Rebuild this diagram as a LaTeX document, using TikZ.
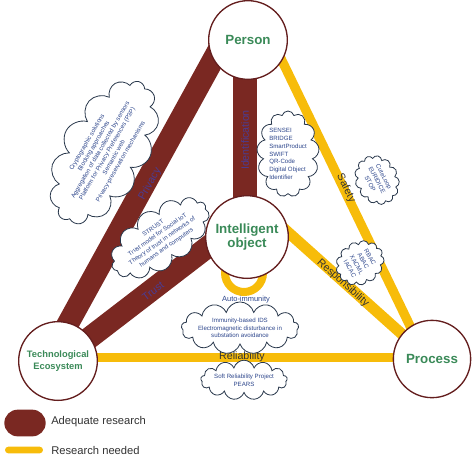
\documentclass[tikz,border=0pt]{standalone}
\usepackage{fontspec}
\setmainfont{Liberation Sans}
\usetikzlibrary{shapes.symbols}
\definecolor{bandbrown}{RGB}{122,40,34}
\definecolor{bandyellow}{RGB}{247,188,10}
\definecolor{nodegreen}{RGB}{58,138,88}
\definecolor{rimbrown}{RGB}{100,30,30}
\definecolor{cloudline}{RGB}{40,55,75}
\definecolor{cloudtext}{RGB}{45,70,140}
\definecolor{bandtext}{RGB}{75,60,145}
\definecolor{legtext}{RGB}{50,50,50}
\tikzset{
  hub/.style={circle, draw=rimbrown, line width=1pt, fill=white, text=nodegreen, font=\fontsize{10}{11}\selectfont\bfseries, align=center, inner sep=0pt},
  brownband/.style={draw=bandbrown, line width=#1},
  yellowband/.style={draw=bandyellow, line width=#1},
  cl/.style={cloud, draw=cloudline, line width=0.6pt, fill=white, cloud puffs=13, cloud ignores aspect, align=center, inner xsep=0pt, inner ysep=1pt, text=cloudtext, font=\fontsize{4.6}{5.8}\selectfont},
  blabel/.style={text=bandtext, font=\fontsize{8}{9}\selectfont, inner sep=0pt},
  ylabel/.style={text=legtext, font=\fontsize{8}{9}\selectfont, inner sep=0pt},
  legendlabel/.style={text=legtext, font=\fontsize{8.4}{10}\selectfont, anchor=west, inner sep=0pt}
}
\begin{document}
\begin{tikzpicture}[x=0.75pt,y=-0.75pt]
\useasboundingbox (0,0) rectangle (474,462);
% anchor coordinates for the bands
\coordinate (pA) at (224,40);
\coordinate (tA) at (48,360);
\coordinate (iA) at (235,226);
\coordinate (tB) at (58,362);
\coordinate (pB) at (245,40);
\coordinate (iB) at (245,236);
\coordinate (pC) at (272,40);
\coordinate (rC) at (426,359);
\coordinate (iD) at (270,216);
\coordinate (rD) at (432,361);
\coordinate (tE) at (58,357);
\coordinate (rE) at (432,357);
\coordinate (ring) at (244,273);
% bands
\draw[brownband=16.5pt] (pA) -- (tA);
\draw[brownband=16.5pt] (iA) -- (tB);
\draw[brownband=18pt] (pB) -- (iB);
\draw[yellowband=7pt] (pC) -- (rC);
\draw[yellowband=8.25pt] (iD) -- (rD);
\draw[yellowband=6.75pt] (tE) -- (rE);
\draw[yellowband=6pt] (ring) circle [radius=19];
% hubs
\node[hub, minimum size=59pt] (person) at (248,40) {Person};
\node[hub, minimum size=62pt] (io) at (247,237) {Intelligent\\object};
\node[hub, minimum size=59pt, font=\fontsize{7}{8.5}\selectfont\bfseries] (tech) at (58,361) {Technological\\Ecosystem};
\node[hub, minimum size=58pt] (proc) at (432,359) {Process};
% band labels
\node[blabel, rotate=61] (lprivacy) at (150,184) {Privacy};
\node[blabel, rotate=90] (lident) at (245,140) {Identification};
\node[blabel, rotate=37] (ltrust) at (153,291) {Trust};
\node[ylabel, rotate=-64] (lsafety) at (346,188) {Safety};
\node[ylabel, rotate=-42] (lresp) at (343,283) {Responsibility};
\node[ylabel] (lrel) at (242,357) {Reliability};
\node[text=cloudtext, font=\fontsize{5.6}{6.5}\selectfont, inner sep=0pt] (lauto) at (246,300) {Auto-immunity};
% clouds
\node[cl, rotate=60, inner xsep=-1.5pt, inner ysep=-0.5pt] (cprivacy) at (104,152) {Cryptographic solutions\\Blocking approaches\\Aggregation of data collected by sensors\\Platform for Privacy Preferences (P3P)\\Semantic web\\Privacy-preservation mechanisms};
\node[cl, align=left, inner xsep=-1pt, inner ysep=2pt] (cident) at (288,154) {SENSEI\\BRIDGE\\SmartProduct\\SWIFT\\QR-Code\\Digital Object\\Identifier};
\node[cl, rotate=-62, inner xsep=1pt, inner ysep=2pt] (csafety) at (377,180) {CuteLoop\\EURIDICE\\STOP};
\node[cl, rotate=-60, inner xsep=1.5pt, inner ysep=1.5pt] (cresp) at (360,263) {RBAC\\ABAC\\XACML\\IACAC};
\node[cl, rotate=35, inner xsep=-1pt, inner ysep=0pt] (ctrust) at (160,238) {STRUST\\Trust model for Social IoT\\Theory of trust in networks of\\humans and computers};
\node[cl, inner xsep=-1pt] (cauto) at (240,328) {Immunity-based IDS\\Electromagnetic disturbance in\\substation avoidance};
\node[cl, inner ysep=2pt] (crel) at (244,380) {Soft Reliability Project\\PEARS};
% legend
\node[fill=bandbrown, rounded corners=10pt, minimum width=31pt, minimum height=20pt, inner sep=0pt] (legb) at (25,423) {};
\node[fill=bandyellow, rounded corners=2.5pt, minimum width=28.5pt, minimum height=5pt, inner sep=0pt] (legy) at (24,450) {};
\node[legendlabel] (legbt) at (51,422) {Adequate research};
\node[legendlabel] (legyt) at (51,450) {Research needed};
\end{tikzpicture}
\end{document}
